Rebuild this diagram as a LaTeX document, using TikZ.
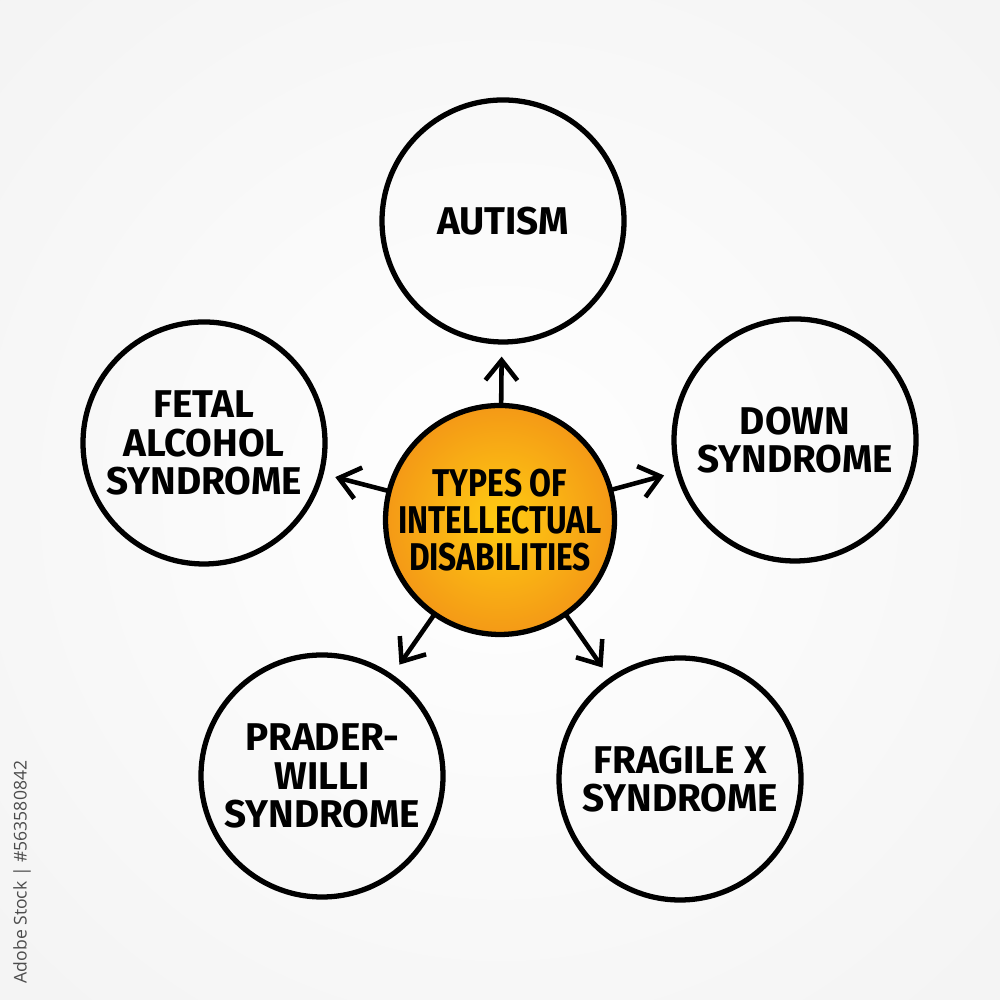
\documentclass[tikz,border=0pt]{standalone}
\usepackage{fontspec}
\setmainfont{Fira Sans}
\newfontfamily\hubfont[FakeStretch=0.82]{Fira Sans}
\newfontfamily\stockfont{Open Sans}
\usetikzlibrary{arrows.meta}
\definecolor{hubcore}{RGB}{255,204,18}
\definecolor{hubedge}{RGB}{244,153,22}

\begin{document}
\begin{tikzpicture}[
    bubble/.style={circle, draw=black, line width=1.5pt, minimum size=2.42cm, inner sep=0pt, align=center, font=\bfseries\fontsize{11}{11}\selectfont},
    hub/.style={bubble, minimum size=2.29cm, inner color=hubcore, outer color=hubedge, font=\hubfont\bfseries\fontsize{11}{10.5}\selectfont},
    link/.style={-{Straight Barb[length=2mm, width=3.2mm]}, line width=1.3pt, line cap=round, line join=round, shorten >=1.2mm}
  ]
\useasboundingbox (0,0) rectangle (10,10);
\begin{scope}
  \clip (0,0) rectangle (10,10);
  \shade[inner color=white, outer color=black!9] (5,5) circle (14.1);
\end{scope}

\node[hub] (types) at (5.00,4.80) {TYPES OF\\INTELLECTUAL\\DISABILITIES};
\node[bubble] (autism) at (5.03,7.79) {AUTISM};
\node[bubble] (down) at (7.95,5.60) {DOWN\\SYNDROME};
\node[bubble] (fetal) at (2.04,5.57) {FETAL\\ALCOHOL\\SYNDROME};
\node[bubble] (prader) at (3.22,2.24) {PRADER-\\WILLI\\SYNDROME};
\node[bubble] (fragile) at (6.80,2.21) {FRAGILE X\\SYNDROME};

\foreach \t in {autism,down,fetal,prader,fragile}
  \draw[link] (types) -- (\t);

\node[rotate=90, inner sep=0pt, text=black!70, font=\stockfont\fontsize{5}{6}\selectfont] (stockid) at (0.22,1.28) {Adobe Stock | \#563580842};
\end{tikzpicture}
\end{document}
